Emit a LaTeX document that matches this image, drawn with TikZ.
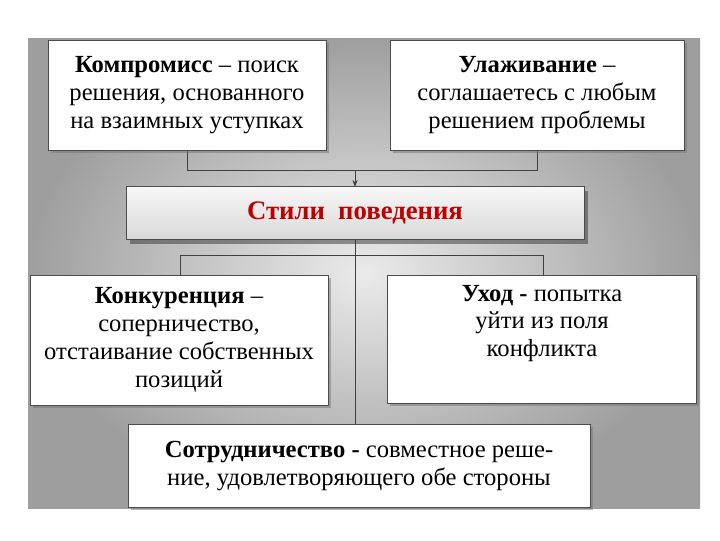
\documentclass[tikz,border=0pt]{standalone}
\usepackage{fontspec}
\setmainfont{Liberation Serif}
\usetikzlibrary{shadows,arrows.meta}

\tikzset{
  stylebox/.style={draw=black!70, fill=white, align=center,
    font=\fontsize{17.5}{19.8}\selectfont, inner sep=2pt,
    drop shadow={shadow xshift=2pt, shadow yshift=-2pt, fill=black!55}},
  link/.style={draw=black!75, line width=0.6pt}
}

\begin{document}
\begin{tikzpicture}[x=0.025cm, y=-0.025cm]
\useasboundingbox (0,0) rectangle (720,540);
\fill[white] (0,0) rectangle (720,540);

% background panel
\shade[inner color=black!8, outer color=black!38] (28,38) rectangle (700,508);

% connectors
\coordinate (topbus) at (355,170);
\coordinate (lowbus) at (355,255);
\draw[link] (187,150) |- (537,170) -- (537,150);
\draw[link, -{Stealth[length=5pt]}] (topbus) -- (355,187);
\draw[link] (355,240) -- (355,425);
\draw[link] (180,275) |- (543,255) -- (543,275);

% boxes
\node[stylebox, minimum width=278*0.025cm, minimum height=110*0.025cm] (compromise) at (187,95)
  {\textbf{Компромисс} -- поиск\\решения, основанного\\на взаимных уступках};
\node[stylebox, minimum width=294*0.025cm, minimum height=110*0.025cm] (smoothing) at (537,95)
  {\textbf{Улаживание} --\\соглашаетесь с любым\\решением проблемы};
\node[draw=black!70, top color=black!3, bottom color=black!15,
  drop shadow={shadow xshift=3pt, shadow yshift=-3pt, fill=black!80},
  minimum width=458*0.025cm, minimum height=53*0.025cm,
  font=\fontsize{19}{22}\selectfont\bfseries, text=red!75!black] (styles) at (355,213)
  {Стили \ поведения};
\node[stylebox, minimum width=298*0.025cm, minimum height=130*0.025cm] (rivalry) at (179,340)
  {\textbf{Конкуренция} --\\соперничество,\\отстаивание собственных\\позиций};
\node[stylebox, minimum width=309*0.025cm, minimum height=128*0.025cm] (withdraw) at (542,339)
  {\textbf{Уход -} попытка\\уйти из поля\\конфликта\\\strut};
\node[stylebox, minimum width=462*0.025cm, minimum height=83*0.025cm] (cooperation) at (359,466)
  {\textbf{Сотрудничество -} совместное реше-\\ние, удовлетворяющего обе стороны};
\end{tikzpicture}
\end{document}
